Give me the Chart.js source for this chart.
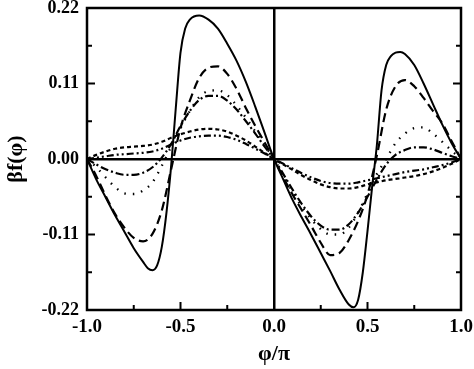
<!DOCTYPE html>
<html>
<head>
<script src="https://cdn.jsdelivr.net/npm/chart.js@4.4.0/dist/chart.umd.min.js"></script>
<style>
  html, body { margin: 0; padding: 0; background: #fff; }
  #box { width: 474px; height: 369px; }
</style>
</head>
<body>
<div id="box"><canvas id="myChart"></canvas></div>
<script>
// x values (phi/pi)
const phiGrid = [-1.0, -0.95, -0.9, -0.85, -0.8, -0.75, -0.7, -0.65, -0.6, -0.55, -0.5, -0.45, -0.4, -0.35, -0.3, -0.25, -0.2, -0.15, -0.1, -0.05,
  0.0, 0.05, 0.1, 0.15, 0.2, 0.25, 0.3, 0.35, 0.4, 0.45, 0.5, 0.55, 0.6, 0.65, 0.7, 0.75, 0.8, 0.85, 0.9, 0.95, 1.0];
const phiSolid = [-1.0, -0.95, -0.9, -0.85, -0.8, -0.75, -0.7, -0.675, -0.65, -0.625, -0.6, -0.575, -0.55, -0.525, -0.5, -0.475, -0.45, -0.4, -0.35, -0.3, -0.25, -0.2, -0.15, -0.1, -0.05,
  0.0, 0.05, 0.1, 0.15, 0.2, 0.25, 0.3, 0.35, 0.4, 0.425, 0.45, 0.475, 0.5, 0.525, 0.55, 0.575, 0.6, 0.625, 0.65, 0.675, 0.7, 0.75, 0.8, 0.85, 0.9, 0.95, 1.0];

// series values (beta f)
const fSolid = [0, -0.03, -0.056, -0.082, -0.106, -0.13, -0.15, -0.159, -0.162, -0.155, -0.128, -0.078, -0.01, 0.075, 0.155, 0.19, 0.203, 0.209, 0.203, 0.19, 0.168, 0.143, 0.112, 0.076, 0.038,
  0, -0.03, -0.06, -0.086, -0.111, -0.137, -0.163, -0.19, -0.212, -0.216, -0.205, -0.165, -0.105, -0.04, 0.02, 0.1, 0.137, 0.15, 0.155, 0.156, 0.153, 0.137, 0.11, 0.08, 0.05, 0.023, 0];
const fDashed = [0, -0.025, -0.054, -0.08, -0.1, -0.115, -0.12, -0.109, -0.075, -0.015, 0.045, 0.085, 0.118, 0.133, 0.135, 0.124, 0.102, 0.074, 0.048, 0.024,
  0, -0.027, -0.052, -0.075, -0.098, -0.122, -0.14, -0.137, -0.118, -0.09, -0.052, 0.005, 0.072, 0.106, 0.115, 0.106, 0.089, 0.07, 0.052, 0.026, 0];
const fDotted = [0, -0.012, -0.027, -0.041, -0.05, -0.051, -0.046, -0.034, -0.01, 0.018, 0.045, 0.07, 0.09, 0.099, 0.1, 0.093, 0.078, 0.06, 0.04, 0.02,
  0, -0.024, -0.048, -0.07, -0.088, -0.102, -0.11, -0.11, -0.1, -0.078, -0.05, -0.022, 0.0, 0.023, 0.037, 0.045, 0.046, 0.037, 0.025, 0.012, 0];
const fDashDot = [0, -0.008, -0.015, -0.02, -0.023, -0.023, -0.02, -0.012, 0.002, 0.022, 0.048, 0.07, 0.086, 0.092, 0.092, 0.085, 0.072, 0.055, 0.037, 0.018,
  0, -0.022, -0.045, -0.066, -0.084, -0.097, -0.103, -0.103, -0.095, -0.078, -0.055, -0.03, -0.008, 0.006, 0.013, 0.017, 0.017, 0.014, 0.009, 0.004, 0];
const fShortDash = [0, 0.006, 0.011, 0.015, 0.017, 0.018, 0.019, 0.021, 0.025, 0.031, 0.036, 0.04, 0.043, 0.044, 0.043, 0.04, 0.034, 0.027, 0.018, 0.009,
  0, -0.008, -0.016, -0.024, -0.031, -0.037, -0.041, -0.043, -0.043, -0.041, -0.037, -0.034, -0.031, -0.029, -0.027, -0.025, -0.022, -0.018, -0.013, -0.007, 0];
const fDashDotDot = [0, 0.002, 0.004, 0.006, 0.007, 0.008, 0.009, 0.011, 0.015, 0.021, 0.027, 0.031, 0.033, 0.034, 0.034, 0.032, 0.028, 0.022, 0.015, 0.008,
  0, -0.007, -0.014, -0.021, -0.027, -0.032, -0.035, -0.036, -0.036, -0.034, -0.031, -0.028, -0.025, -0.022, -0.019, -0.017, -0.015, -0.012, -0.009, -0.005, 0];

// ticks
const xTickValues = [-1.0, -0.75, -0.5, -0.25, 0.0, 0.25, 0.5, 0.75, 1.0];
const xTickLabels = ['-1.0', '', '-0.5', '', '0.0', '', '0.5', '', '1.0'];
const yTickValues = [-0.22, -0.165, -0.11, -0.055, 0.0, 0.055, 0.11, 0.165, 0.22];
const yTickLabels = ['-0.22', '', '-0.11', '', '0.00', '', '0.11', '', '0.22'];

function pts(xs, ys) {
  return xs.map((x, i) => ({ x: x, y: ys[i] }));
}

function line(data, dash, width) {
  return {
    data: data,
    borderColor: '#000',
    borderWidth: width,
    borderDash: dash,
    pointRadius: 0,
    fill: false,
    cubicInterpolationMode: 'monotone'
  };
}

// frame + inward tick marks
const framePlugin = {
  id: 'frame',
  afterDraw(chart) {
    const ctx = chart.ctx;
    const a = chart.chartArea;
    const xs = chart.scales.x, ys = chart.scales.y;
    ctx.save();
    ctx.strokeStyle = '#000';
    ctx.lineWidth = 2.5;
    ctx.strokeRect(a.left, a.top, a.right - a.left, a.bottom - a.top);
    ctx.lineWidth = 2;
    ctx.beginPath();
    xTickValues.forEach((v, i) => {
      const px = xs.getPixelForValue(v);
      const len = xTickLabels[i] ? 8 : 5;
      ctx.moveTo(px, a.bottom);
      ctx.lineTo(px, a.bottom - len);
    });
    yTickValues.forEach((v, i) => {
      const py = ys.getPixelForValue(v);
      const len = yTickLabels[i] ? 8 : 5;
      ctx.moveTo(a.left, py);
      ctx.lineTo(a.left + len, py);
      ctx.moveTo(a.right, py);
      ctx.lineTo(a.right - len, py);
    });
    ctx.stroke();
    ctx.restore();
  }
};

const zeroGrid = {
  drawTicks: false,
  color: c => (c.tick && Math.abs(c.tick.value) < 1e-9) ? '#000' : 'rgba(0,0,0,0)',
  lineWidth: 2.5
};

const config = {
  type: 'line',
  data: {
    datasets: [
      line(pts(phiSolid, fSolid), [], 2),
      line(pts(phiGrid, fDashed), [9, 5], 2.2),
      line(pts(phiGrid, fDotted), [1.5, 7], 2.3),
      line(pts(phiGrid, fDashDot), [8, 3, 2, 3], 2.2),
      line(pts(phiGrid, fShortDash), [4, 3], 2.2),
      line(pts(phiGrid, fDashDotDot), [7, 3, 2, 3, 2, 3], 2.2)
    ]
  },
  options: {
    responsive: true,
    maintainAspectRatio: false,
    animation: false,
    layout: { padding: { left: 0, right: 13, top: 8, bottom: 0 } },
    plugins: {
      legend: { display: false },
      tooltip: { enabled: false }
    },
    scales: {
      x: {
        type: 'linear',
        min: -1,
        max: 1,
        afterBuildTicks: s => { s.ticks = xTickValues.map(v => ({ value: v })); },
        afterFit: s => { s.height = 59; s.paddingLeft = 0; s.paddingRight = 0; },
        ticks: {
          autoSkip: false,
          maxRotation: 0,
          padding: 6,
          color: '#000',
          font: { family: 'Liberation Serif', size: 19, weight: 'bold' },
          callback: (v, i) => xTickLabels[i]
        },
        grid: zeroGrid,
        border: { display: false },
        title: {
          display: true,
          text: 'φ/π',
          color: '#000',
          padding: { top: 0, bottom: 1 },
          font: { family: 'Liberation Serif', size: 22, weight: 'bold' }
        }
      },
      y: {
        min: -0.22,
        max: 0.22,
        afterBuildTicks: s => { s.ticks = yTickValues.map(v => ({ value: v })); },
        afterFit: s => { s.width = 87; s.paddingTop = 0; s.paddingBottom = 0; },
        ticks: {
          autoSkip: false,
          padding: 8,
          color: '#000',
          font: { family: 'Liberation Serif', size: 18, weight: 'bold' },
          callback: (v, i) => yTickLabels[i]
        },
        grid: zeroGrid,
        border: { display: false },
        title: {
          display: true,
          text: 'βf(φ)',
          color: '#000',
          padding: { top: 3, bottom: 0 },
          font: { family: 'Liberation Serif', size: 22, weight: 'bold' }
        }
      }
    }
  },
  plugins: [framePlugin]
};

const myChart = new Chart(document.getElementById('myChart'), config);
</script>
</body>
</html>
